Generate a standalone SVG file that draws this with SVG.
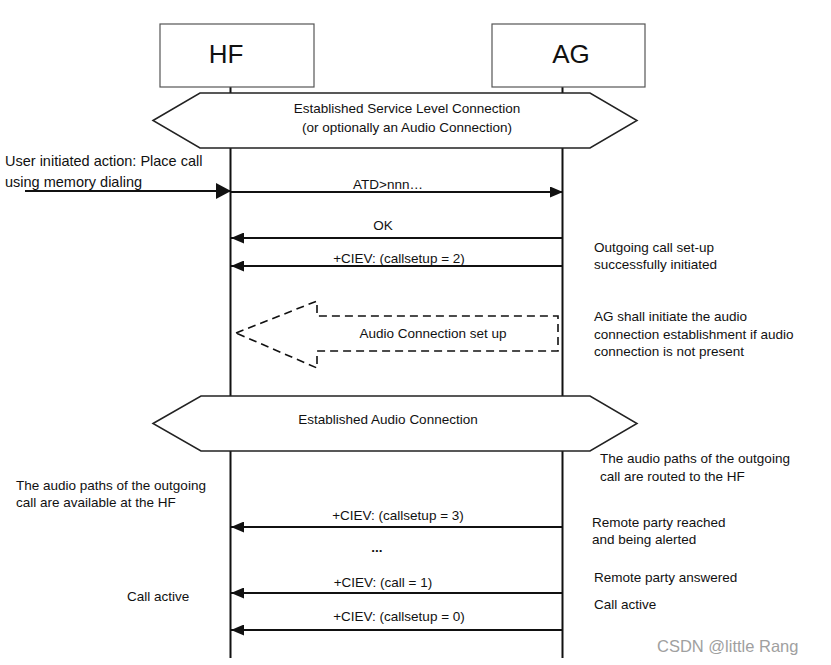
<svg xmlns="http://www.w3.org/2000/svg" width="831" height="665" viewBox="0 0 831 665">
<style>
text{font-family:"Liberation Sans",Arial,sans-serif;fill:#111;}
.t{font-size:13.5px;}
.c{text-anchor:middle;}
.big{font-size:26px;}
.box{fill:#fff;stroke:#555;stroke-width:1.2;}
.life{stroke:#111;stroke-width:2;fill:none;}
.hex{fill:#fff;stroke:#222;stroke-width:1.5;}
.msg{stroke:#111;stroke-width:2;fill:none;}
.dash{fill:none;stroke:#111;stroke-width:1.6;stroke-dasharray:8 5;}
</style>
<defs>
<marker id="ah" markerWidth="13" markerHeight="11" refX="13" refY="5.5" orient="auto" markerUnits="userSpaceOnUse">
<path d="M0,0 L13,5.5 L0,11 Z" fill="#111"/>
</marker>
<marker id="ahBig" markerWidth="15" markerHeight="16" refX="15" refY="8" orient="auto" markerUnits="userSpaceOnUse">
<path d="M0,0 L15,8 L0,16 Z" fill="#111"/>
</marker>
</defs>
<rect width="831" height="665" fill="#fff"/>
<g id="lifelines">
<line class="life" x1="230.5" y1="87" x2="230.5" y2="658"/>
<line class="life" x1="562.5" y1="87" x2="562.5" y2="658"/>
</g>
<g id="node-HF">
<rect class="box" x="160" y="24" width="154" height="63"/>
<text class="big c" x="226" y="63">HF</text>
</g>
<g id="node-AG">
<rect class="box" x="492" y="24" width="153" height="63"/>
<text class="big c" x="571" y="63">AG</text>
</g>
<g id="node-slc">
<polygon class="hex" points="153,120.5 200,93 590,93 637,120.5 590,148 200,148"/>
<text class="t c" x="407" y="113">Established Service Level Connection</text>
<text class="t c" x="407" y="132">(or optionally an Audio Connection)</text>
</g>
<g id="node-audio-setup">
<polygon class="dash" points="236,333 317,301 317,316 558,316 558,351 317,351 317,368"/>
<text class="t c" x="433" y="338">Audio Connection set up</text>
</g>
<g id="node-eac">
<polygon class="hex" points="153,423.5 201,396 590,396 637,423.5 590,451 201,451"/>
<text class="t c" x="388" y="424">Established Audio Connection</text>
</g>
<g id="connectors">
<line class="msg" x1="25" y1="191" x2="231" y2="191" marker-end="url(#ahBig)"/>
<line class="msg" x1="231" y1="192" x2="563" y2="192" marker-end="url(#ah)"/>
<line class="msg" x1="563" y1="238" x2="231" y2="238" marker-end="url(#ah)"/>
<line class="msg" x1="563" y1="266" x2="231" y2="266" marker-end="url(#ah)"/>
<line class="msg" x1="563" y1="527" x2="231" y2="527" marker-end="url(#ah)"/>
<line class="msg" x1="563" y1="593" x2="231" y2="593" marker-end="url(#ah)"/>
<line class="msg" x1="563" y1="630" x2="231" y2="630" marker-end="url(#ah)"/>
</g>
<g id="labels">
<text style="font-size:14.5px" x="5" y="166">User initiated action: Place call</text>
<text style="font-size:14.5px" x="5" y="187">using memory dialing</text>
<text class="t c" x="388" y="189">ATD&gt;nnn…</text>
<text class="t c" x="383" y="230">OK</text>
<text class="t c" x="399" y="263">+CIEV: (callsetup = 2)</text>
<text class="t" x="594" y="252">Outgoing call set-up</text>
<text class="t" x="594" y="269">successfully initiated</text>
<text class="t" x="594" y="321">AG shall initiate the audio</text>
<text class="t" x="594" y="339">connection establishment if audio</text>
<text class="t" x="594" y="356">connection is not present</text>
<text class="t" x="600" y="463">The audio paths of the outgoing</text>
<text class="t" x="600" y="481">call are routed to the HF</text>
<text class="t" x="16" y="490">The audio paths of the outgoing</text>
<text class="t" x="16" y="507">call are available at the HF</text>
<text class="t c" x="398" y="520">+CIEV: (callsetup = 3)</text>
<text class="t" x="592" y="527">Remote party reached</text>
<text class="t" x="592" y="544">and being alerted</text>
<text class="t c" x="377" y="552" style="font-weight:bold">...</text>
<text class="t" x="594" y="582">Remote party answered</text>
<text class="t c" x="383" y="587">+CIEV: (call = 1)</text>
<text class="t" x="127" y="601">Call active</text>
<text class="t" x="594" y="609">Call active</text>
<text class="t c" x="399" y="621">+CIEV: (callsetup = 0)</text>
<text x="657" y="652" style="font-size:16.5px;fill:#a0a0a0">CSDN @little Rang</text>
</g>
</svg>
